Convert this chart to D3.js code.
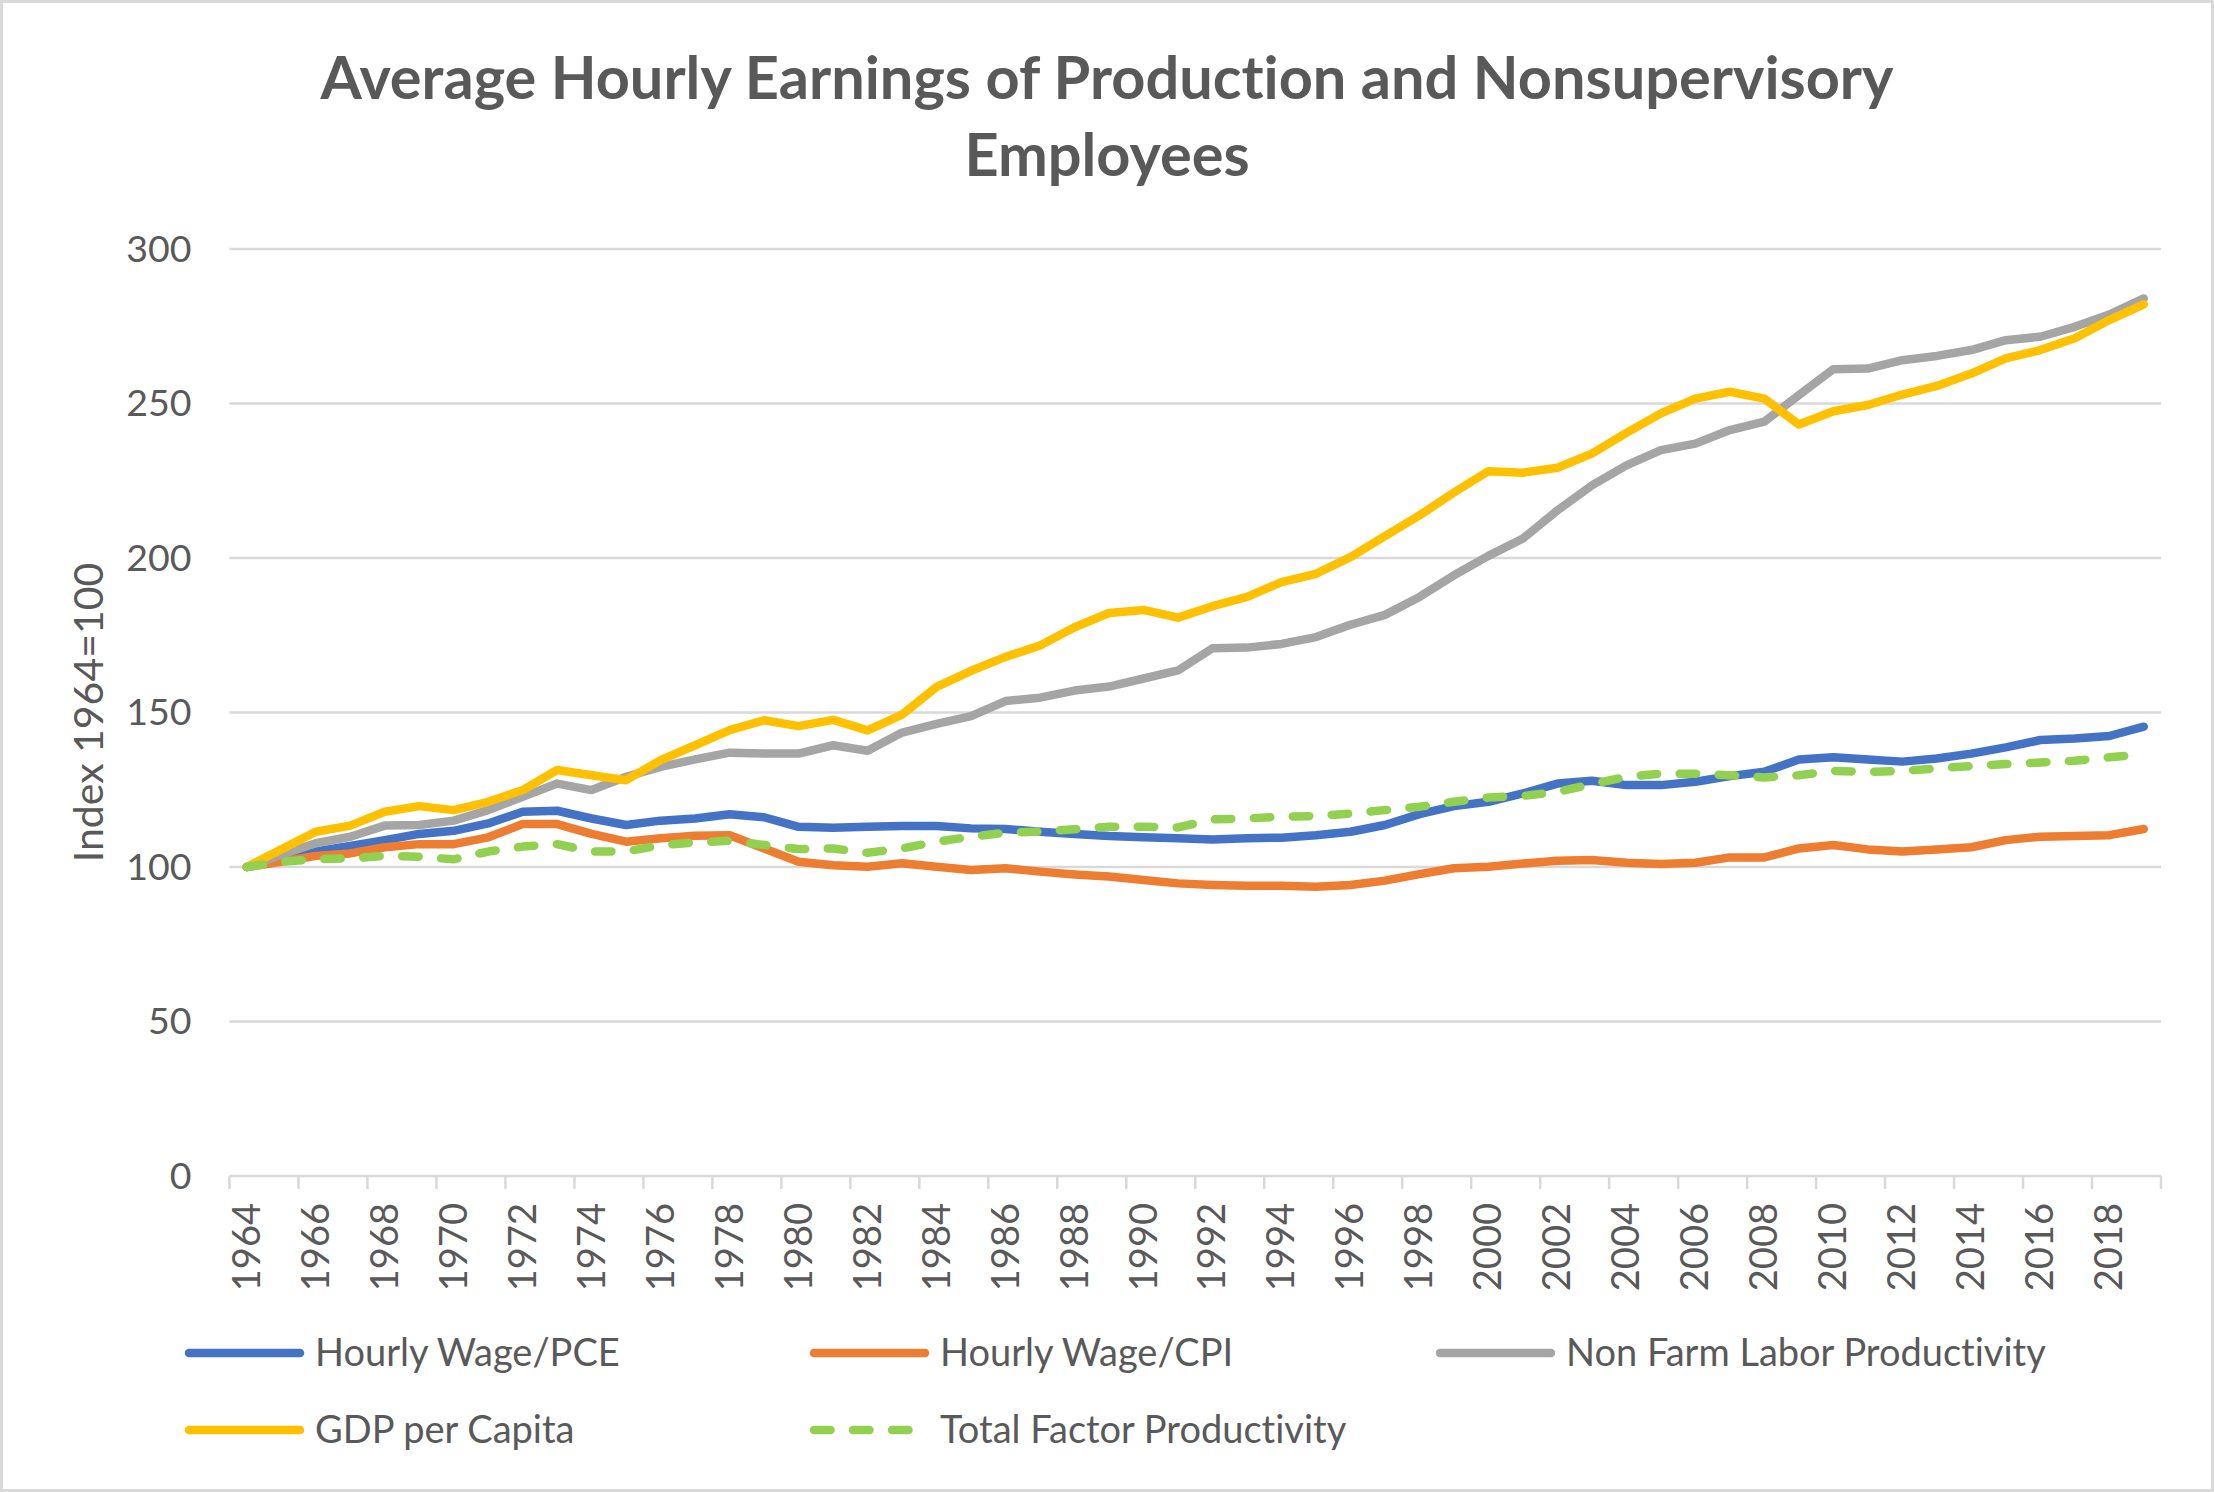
<!DOCTYPE html>
<html>
<head>
<meta charset="utf-8">
<script src="https://cdn.jsdelivr.net/npm/d3@7"></script>
<style>
  body { margin: 0; background: #fff; }
  svg { display: block; }
  text { font-variant-ligatures: none; }
</style>
</head>
<body>
<svg id="chart"></svg>
<script>
const years = [1964, 1965, 1966, 1967, 1968, 1969, 1970, 1971, 1972, 1973, 1974, 1975, 1976, 1977,
    1978, 1979, 1980, 1981, 1982, 1983, 1984, 1985, 1986, 1987, 1988, 1989, 1990, 1991, 1992, 1993,
    1994, 1995, 1996, 1997, 1998, 1999, 2000, 2001, 2002, 2003, 2004, 2005, 2006, 2007, 2008, 2009,
    2010, 2011, 2012, 2013, 2014, 2015, 2016, 2017, 2018, 2019];
const yTicks = [0, 50, 100, 150, 200, 250, 300];

// index 1964=100
const wagePCE = [100, 102.5, 105, 106.8, 108.7, 110.7, 111.7, 114.1, 117.9, 118.2, 115.7, 113.6, 115.0, 115.7,
    117.1, 116.1, 113.0, 112.7, 113.0, 113.3, 113.3, 112.5, 112.3, 111.4, 110.7, 110.0, 109.6, 109.3, 108.9, 109.3,
    109.5, 110.3, 111.4, 113.6, 117.1, 119.7, 121.1, 123.8, 127.0, 127.9, 126.5, 126.5, 127.6, 129.4, 130.8, 134.8,
    135.5, 134.8, 134.1, 135.1, 136.7, 138.7, 141.1, 141.6, 142.4, 145.4];
const wageCPI = [100, 101.7, 103.6, 104.4, 106.4, 107.4, 107.4, 109.6, 113.9, 113.9, 110.7, 108.2, 109.3, 110.1,
    110.3, 106.0, 101.7, 100.6, 100.1, 101.2, 100.1, 99.0, 99.6, 98.5, 97.6, 96.9, 95.8, 94.7, 94.2, 93.9,
    93.9, 93.6, 94.2, 95.6, 97.7, 99.6, 100.1, 101.1, 102.0, 102.3, 101.4, 101.0, 101.4, 103.1, 103.1, 106.0,
    107.1, 105.7, 105.0, 105.7, 106.4, 108.7, 109.8, 110.0, 110.3, 112.3];
const laborProd = [100, 104, 107.7, 109.8, 113.4, 113.6, 115.0, 118.4, 122.7, 127.0, 124.9, 129.2, 132.4, 134.8,
    137.0, 136.7, 136.7, 139.4, 137.6, 143.5, 146.3, 148.8, 153.7, 154.8, 157.1, 158.4, 161.0, 163.6, 170.8, 171.0,
    172.2, 174.4, 178.4, 181.6, 187.4, 194.4, 200.7, 206.3, 215.4, 223.5, 230.0, 234.9, 237.0, 241.4, 244.1, 252.7,
    261.1, 261.3, 264.0, 265.4, 267.3, 270.5, 271.6, 274.8, 278.8, 284.0];
const gdpPerCapita = [100, 105.7, 111.4, 113.4, 117.9, 119.7, 118.4, 121.1, 124.9, 131.4, 129.7, 128.1, 134.6, 139.4,
    144.3, 147.5, 145.6, 147.6, 144.2, 149.3, 158.3, 163.5, 168.0, 171.7, 177.6, 182.2, 183.2, 180.7, 184.4, 187.4,
    192.2, 194.9, 200.3, 207.1, 213.8, 221.2, 228.1, 227.6, 229.2, 233.8, 240.5, 246.8, 251.6, 253.8, 251.6, 243.2,
    247.5, 249.5, 252.9, 255.7, 259.7, 264.6, 267.3, 271.1, 277.0, 282.1];
const tfp = [100, 101.7, 102.5, 102.8, 103.6, 103.3, 102.5, 105.0, 106.6, 107.4, 105.0, 105.0, 107.1, 107.9,
    108.5, 107.1, 105.8, 106.0, 104.6, 106.0, 108.2, 109.8, 111.1, 111.4, 112.2, 113.0, 113.0, 112.8, 115.4, 115.7,
    116.3, 116.5, 117.3, 118.4, 119.5, 121.1, 122.5, 123.0, 124.3, 126.8, 129.2, 130.2, 130.2, 129.7, 129.0, 129.7,
    131.1, 130.8, 131.1, 131.9, 132.7, 133.3, 133.8, 134.4, 135.5, 136.5];

const seriesNames = ["Hourly Wage/PCE", "Hourly Wage/CPI", "Non Farm Labor Productivity", "GDP per Capita", "Total Factor Productivity"];
const seriesColors = ["#4472C4", "#ED7D31", "#A5A5A5", "#FFC000", "#92D050"];
const seriesValues = [wagePCE, wageCPI, laborProd, gdpPerCapita, tfp];

const W = 2214, H = 1492;
const margin = { top: 249, right: 53, bottom: 316, left: 229.5 };
const FONT = "Lato, 'Open Sans', sans-serif";
const textColor = "#595959";
const gridColor = "#D9D9D9";
const lineWidth = 8.5;
const dash = "16.5 22.5";

const svg = d3.select("#chart").attr("width", W).attr("height", H);

svg.append("rect")
    .attr("x", 1.5).attr("y", 1.5)
    .attr("width", W - 3).attr("height", H - 3)
    .attr("fill", "#fff")
    .attr("stroke", gridColor)
    .attr("stroke-width", 3);

// title
const title = svg.append("text")
    .attr("text-anchor", "middle")
    .style("font-family", FONT)
    .style("font-weight", 700)
    .style("font-size", "59.5px")
    .attr("fill", textColor);
title.append("tspan").attr("x", W / 2).attr("y", 99).text("Average Hourly Earnings of Production and Nonsupervisory");
title.append("tspan").attr("x", W / 2).attr("y", 176).text("Employees");

const x = d3.scalePoint()
    .domain(years)
    .range([margin.left, W - margin.right])
    .padding(0.5);
const xBand = d3.scaleBand()
    .domain(years)
    .range([margin.left, W - margin.right]);
const y = d3.scaleLinear()
    .domain([0, 300])
    .range([H - margin.bottom, margin.top]);

// gridlines
svg.append("g")
    .selectAll("line")
    .data(yTicks)
    .enter()
    .append("line")
    .attr("x1", margin.left)
    .attr("x2", W - margin.right)
    .attr("y1", d => y(d))
    .attr("y2", d => y(d))
    .attr("stroke", gridColor)
    .attr("stroke-width", 2.5);

// y axis labels
const yAxis = d3.axisLeft(y).tickValues(yTicks).tickSize(0).tickPadding(38);
svg.append("g")
    .attr("transform", `translate(${margin.left},0)`)
    .call(yAxis)
    .call(g => g.select(".domain").remove())
    .selectAll("text")
    .style("font-family", FONT)
    .style("font-size", "37.5px")
    .attr("fill", textColor);

// x axis tick marks between categories, every second one
const tickPos = years.filter((d, i) => i % 2 === 0).map(d => xBand(d));
tickPos.push(W - margin.right);
svg.append("g")
    .selectAll("line")
    .data(tickPos)
    .enter()
    .append("line")
    .attr("x1", d => d).attr("x2", d => d)
    .attr("y1", y(0)).attr("y2", y(0) + 13)
    .attr("stroke", gridColor)
    .attr("stroke-width", 2.5);

// x labels, rotated
const xLabels = years.filter((d, i) => i % 2 === 0);
svg.append("g")
    .selectAll("text")
    .data(xLabels)
    .enter()
    .append("text")
    .attr("transform", d => `translate(${x(d) + 13},${y(0) + 27}) rotate(-90)`)
    .attr("text-anchor", "end")
    .style("font-family", FONT)
    .style("font-size", "38px")
    .attr("fill", textColor)
    .text(d => d);

// y axis title
svg.append("text")
    .attr("transform", `translate(${103},${(y(0) + y(300)) / 2}) rotate(-90)`)
    .attr("text-anchor", "middle")
    .style("font-family", FONT)
    .style("font-size", "41px")
    .attr("fill", textColor)
    .text("Index 1964=100");

// lines
const line = d3.line()
    .x((d, i) => x(years[i]))
    .y(d => y(d));

svg.append("g")
    .selectAll("path")
    .data(seriesValues)
    .enter()
    .append("path")
    .attr("fill", "none")
    .attr("stroke", (d, i) => seriesColors[i])
    .attr("stroke-width", lineWidth)
    .attr("stroke-linejoin", "round")
    .attr("stroke-linecap", "round")
    .attr("stroke-dasharray", (d, i) => i === 4 ? dash : null)
    .attr("d", d => line(d));

// legend
const legendCols = [184, 809, 1435];
const legendRows = [1353, 1430];
const legend = svg.append("g")
    .selectAll("g")
    .data(seriesNames)
    .enter()
    .append("g")
    .attr("transform", (d, i) => `translate(${legendCols[i % 3]},${legendRows[Math.floor(i / 3)]})`);

legend.append("line")
    .attr("x1", 5).attr("x2", 116)
    .attr("y1", 0).attr("y2", 0)
    .attr("stroke", (d, i) => seriesColors[i])
    .attr("stroke-width", lineWidth)
    .attr("stroke-linecap", "round")
    .attr("stroke-dasharray", (d, i) => i === 4 ? dash : null);

legend.append("text")
    .attr("x", 131)
    .attr("y", 0)
    .attr("dy", "0.35em")
    .style("font-family", FONT)
    .style("font-size", "38px")
    .attr("fill", textColor)
    .text(d => d);
</script>
</body>
</html>
